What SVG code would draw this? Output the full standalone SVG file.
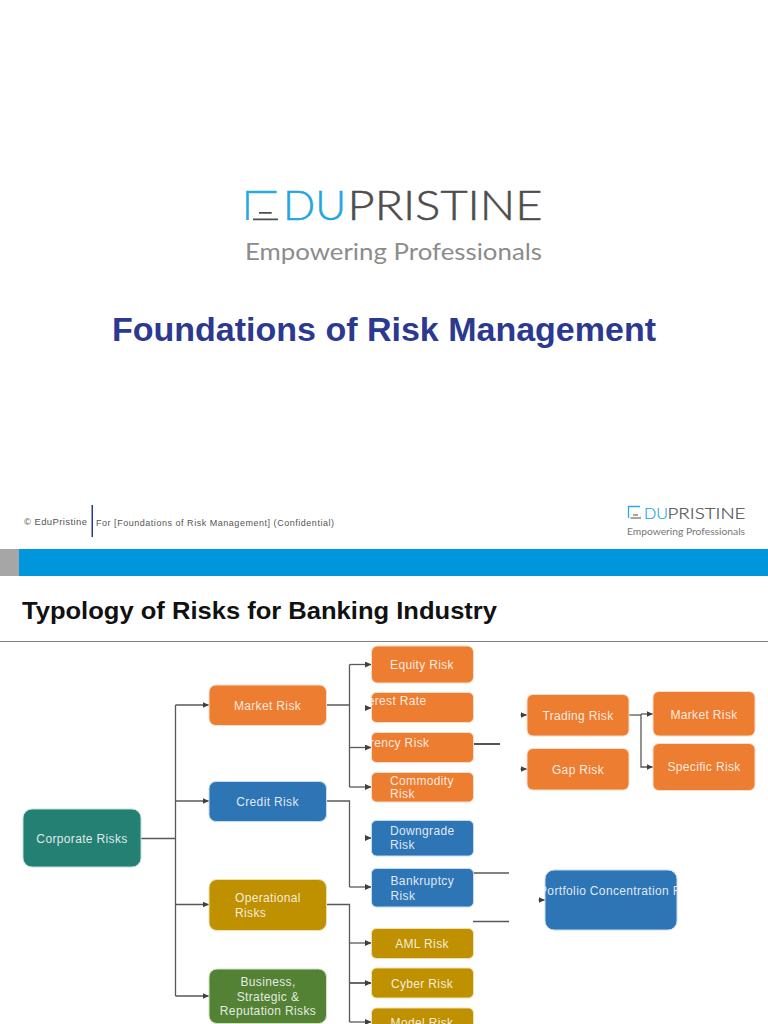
<svg xmlns="http://www.w3.org/2000/svg" width="768" height="1024" viewBox="0 0 768 1024">
<style>
text{font-family:"Liberation Sans",Arial,sans-serif}
.lbl{font-size:12px;letter-spacing:.35px;fill:#fff;fill-opacity:.86}
.c{text-anchor:middle}
.or{fill:#ED7D31;stroke:#f9dcc6;stroke-width:1}
.bl{fill:#2E75B6;stroke:#c4dcf0;stroke-width:1}
.go{fill:#BF9000;stroke:#f0e0ae;stroke-width:1}
.gr{fill:#548235;stroke:#cfe2c0;stroke-width:1}
.te{fill:#258074;stroke:#bfe0db;stroke-width:1}
.ln{fill:none;stroke:#595959;stroke-width:1.300}
.ar{fill:none;stroke:#595959;stroke-width:1.300;marker-end:url(#arr)}
.logo{font-family:"Lato","Noto Sans",sans-serif;font-weight:300}
.tag{font-family:"Lato","Noto Sans",sans-serif;font-weight:400}
</style>
<defs>
<marker id="arr" markerUnits="userSpaceOnUse" markerWidth="7" markerHeight="7" refX="6.500" refY="3" orient="auto"><path d="M0 0L6.500 3L0 6z" fill="#404040"/></marker>
<clipPath id="cInt"><rect x="371.500" y="692" width="102" height="31"/></clipPath>
<clipPath id="cCur"><rect x="371.500" y="732" width="102" height="31"/></clipPath>
<clipPath id="cPor"><rect x="545" y="870" width="132" height="60"/></clipPath>
</defs>
<rect width="768" height="1024" fill="#fff"/>

<g id="logo-large">
<path d="M276.700 192H247.500V220" fill="none" stroke="#29abe2" stroke-width="2.600"/>
<path d="M259 212.800H271.700M253 219.300H278" fill="none" stroke="#4d4d4d" stroke-width="1.800"/>
<text class="logo" x="283" y="220" font-size="41" fill="#1fa5e0" stroke="#1fa5e0" stroke-width=".5" textLength="63" lengthAdjust="spacingAndGlyphs">DU</text>
<text class="logo" x="347.500" y="220" font-size="41" fill="#4d4d4d" stroke="#4d4d4d" stroke-width=".5" textLength="195" lengthAdjust="spacingAndGlyphs">PRISTINE</text>
<text class="tag" x="245" y="260" font-size="23.500" fill="#8c8c8c" textLength="297" lengthAdjust="spacingAndGlyphs">Empowering Professionals</text>
</g>
<text id="cover-title" x="112" y="341" font-size="33" font-weight="700" fill="#2B3990" textLength="544" lengthAdjust="spacingAndGlyphs">Foundations of Risk Management</text>

<g id="footer">
<text x="24" y="525" font-size="9.500" fill="#555" textLength="63">© EduPristine</text>
<rect x="91.500" y="505" width="1.500" height="32" fill="#2B3990"/>
<text x="96" y="526" font-size="9" fill="#555" textLength="238">For [Foundations of Risk Management] (Confidential)</text>
</g>
<g id="logo-small">
<path d="M640 506.500H628.500V518" fill="none" stroke="#29abe2" stroke-width="1.300"/>
<path d="M633 515H638M630.500 518H641" fill="none" stroke="#4d4d4d" stroke-width="1"/>
<text class="logo" x="644" y="518.500" font-size="16.500" fill="#1fa5e0" stroke="#1fa5e0" stroke-width=".2" textLength="24" lengthAdjust="spacingAndGlyphs">DU</text>
<text class="logo" x="667.500" y="518.500" font-size="16.500" fill="#4d4d4d" stroke="#4d4d4d" stroke-width=".2" textLength="78" lengthAdjust="spacingAndGlyphs">PRISTINE</text>
<text class="tag" x="627" y="534.500" font-size="9.800" fill="#777" textLength="118" lengthAdjust="spacingAndGlyphs">Empowering Professionals</text>
</g>
<rect x="0" y="549" width="19" height="27" fill="#a6a6a6"/>
<rect x="19" y="549" width="749" height="27" fill="#0096DB"/>
<text id="slide-title" x="22" y="619" font-size="24" font-weight="700" fill="#111" textLength="475" lengthAdjust="spacingAndGlyphs">Typology of Risks for Banking Industry</text>
<rect x="0" y="641" width="768" height="1" fill="#7f7f7f"/>

<g id="connectors">
<path class="ln" d="M141 838.500H175.500M175.500 705V996"/>
<path class="ar" d="M175.500 705H209"/>
<path class="ar" d="M175.500 801H209"/>
<path class="ar" d="M175.500 904.500H209"/>
<path class="ar" d="M175.500 996H209"/>
<path class="ln" d="M326 705H349.500M349.500 664.500V787"/>
<path class="ar" d="M349.500 664.500H371.500"/>
<path class="ar" d="M365 708H371.500"/>
<path class="ar" d="M349.500 747.500H371.500"/>
<path class="ar" d="M349.500 787H371.500"/>
<path class="ln" d="M473 744H500" style="stroke:#404040;stroke-width:1.800"/>
<path class="ar" d="M520.500 715H527"/>
<path class="ar" d="M520.500 769H527"/>
<path class="ln" d="M629 715H641"/>
<path class="ar" d="M641 714H653"/>
<path class="ar" d="M641 714V767H653"/>
<path class="ln" d="M326 801H349.500V887"/>
<path class="ar" d="M365 838H371.500"/>
<path class="ar" d="M349.500 887H371.500"/>
<path class="ln" d="M473 873H509M473 921.500H509"/>
<path class="ar" d="M538.500 900H545"/>
<path class="ln" d="M326 904.500H349.500V1022"/>
<path class="ar" d="M349.500 943H371.500"/>
<path class="ar" d="M349.500 983H371.500" style="stroke-width:1.800"/>
<path class="ar" d="M349.500 1022H371.500"/>
</g>

<g id="corporate-risks"><rect class="te" x="23" y="809" width="118" height="58" rx="9"/><text class="lbl c" x="82" y="843">Corporate Risks</text></g>
<g id="market-risk"><rect class="or" x="209" y="685" width="117.500" height="40.500" rx="7"/><text class="lbl c" x="267.500" y="709.500">Market Risk</text></g>
<g id="credit-risk"><rect class="bl" x="209" y="781.500" width="117.500" height="40" rx="7"/><text class="lbl c" x="267.500" y="805.500">Credit Risk</text></g>
<g id="operational-risks"><rect class="go" x="209" y="879.500" width="117.500" height="51" rx="8"/><text class="lbl" x="235" y="902">Operational</text><text class="lbl" x="235" y="917">Risks</text></g>
<g id="business-risks"><rect class="gr" x="209" y="969" width="117.500" height="54.500" rx="8"/><text class="lbl c" x="268" y="986">Business,</text><text class="lbl c" x="268" y="1001">Strategic &amp;</text><text class="lbl c" x="268" y="1015">Reputation Risks</text></g>

<g id="equity-risk"><rect class="or" x="371.500" y="646" width="102" height="37" rx="6"/><text class="lbl c" x="422" y="669">Equity Risk</text></g>
<g id="interest-rate-risk"><rect class="or" x="371.500" y="692.500" width="102" height="30" rx="5"/><g clip-path="url(#cInt)"><text class="lbl" x="364" y="705">terest Rate</text></g></g>
<g id="currency-risk"><rect class="or" x="371.500" y="732.500" width="102" height="30" rx="5"/><g clip-path="url(#cCur)"><text class="lbl" x="365.500" y="747">rrency Risk</text></g></g>
<g id="commodity-risk"><rect class="or" x="371.500" y="772.500" width="102" height="29.500" rx="5"/><text class="lbl" x="390" y="785">Commodity</text><text class="lbl" x="390" y="798">Risk</text></g>

<g id="trading-risk"><rect class="or" x="527" y="694.500" width="102" height="41.500" rx="6"/><text class="lbl c" x="578" y="720">Trading Risk</text></g>
<g id="gap-risk"><rect class="or" x="527" y="748.500" width="102" height="41.500" rx="6"/><text class="lbl c" x="578" y="773.500">Gap Risk</text></g>
<g id="market-risk-2"><rect class="or" x="653" y="691.500" width="102" height="44.500" rx="6"/><text class="lbl c" x="704" y="719">Market Risk</text></g>
<g id="specific-risk"><rect class="or" x="653" y="743.500" width="102" height="47" rx="6"/><text class="lbl c" x="704" y="771">Specific Risk</text></g>

<g id="downgrade-risk"><rect class="bl" x="371.500" y="820.500" width="102" height="35.500" rx="5"/><text class="lbl" x="390" y="835">Downgrade</text><text class="lbl" x="390" y="849">Risk</text></g>
<g id="bankruptcy-risk"><rect class="bl" x="371.500" y="868.500" width="102" height="38.500" rx="5"/><text class="lbl" x="390.500" y="885">Bankruptcy</text><text class="lbl" x="390.500" y="900">Risk</text></g>
<g id="portfolio-risk"><rect class="bl" x="545" y="870" width="132" height="60" rx="9"/><g clip-path="url(#cPor)"><text class="lbl" x="539" y="895">Portfolio Concentration Risk</text></g></g>

<g id="aml-risk"><rect class="go" x="371.500" y="928.500" width="102" height="30" rx="5"/><text class="lbl c" x="422" y="948">AML Risk</text></g>
<g id="cyber-risk"><rect class="go" x="371.500" y="968" width="102" height="30" rx="5"/><text class="lbl c" x="422" y="988">Cyber Risk</text></g>
<g id="model-risk"><rect class="go" x="371.500" y="1008" width="102" height="30" rx="5"/><text class="lbl c" x="422" y="1027">Model Risk</text></g>
</svg>
